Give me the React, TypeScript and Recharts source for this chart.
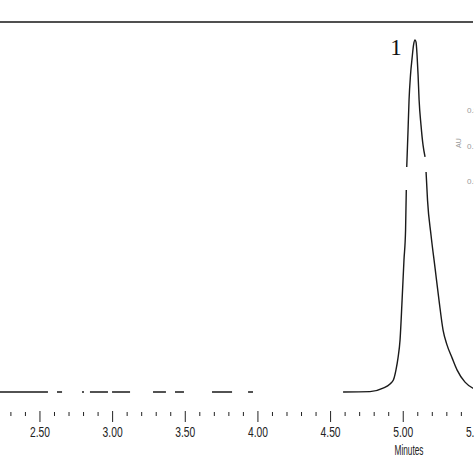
import { LineChart, Line, XAxis, YAxis, ReferenceDot, ReferenceLine, Label } from 'recharts';

// retention time (min) and detector signal (normalised to peak 1); null = gap in trace
const times = [
  2.225, 2.555, 2.585, 2.617, 2.652, 2.72, 2.789, 2.803, 2.82, 2.844, 2.968, 2.98,
  2.996, 3.12, 3.2, 3.278, 3.367, 3.4, 3.429, 3.491, 3.6, 3.684, 3.822, 3.9, 3.932,
  3.966, 4.3,
  4.586, 4.771, 4.861, 4.909, 4.932, 4.95, 4.964, 4.978, 4.992, 5.005, 5.016, 5.021,
  5.0225, 5.024, 5.033, 5.04, 5.05, 5.061, 5.071, 5.081,
  5.088, 5.095, 5.102, 5.109, 5.122, 5.136, 5.15, 5.153, 5.157, 5.167, 5.191, 5.219,
  5.246, 5.274, 5.301, 5.336, 5.37, 5.425, 5.487,
];
const signal: (number | null)[] = [
  0, 0, null, 0, 0, null, 0, 0, null, 0, 0, null,
  0, 0, null, 0, 0, null, 0, 0, null, 0, 0, null, 0,
  0, null,
  0, 0.001, 0.011, 0.023, 0.034, 0.063, 0.097, 0.148, 0.261, 0.375, 0.46, 0.574,
  null, 0.639, 0.744, 0.83, 0.901, 0.949, 0.986, 1.0,
  0.994, 0.957, 0.901, 0.83, 0.759, 0.702, 0.668, null, 0.625, 0.545, 0.446, 0.352,
  0.261, 0.176, 0.134, 0.097, 0.063, 0.028, 0.009,
];

const xTicks = [
  2.3, 2.4, 2.5, 2.6, 2.7, 2.8, 2.9, 3.0, 3.1, 3.2, 3.3, 3.4, 3.5, 3.6, 3.7, 3.8, 3.9,
  4.0, 4.1, 4.2, 4.3, 4.4, 4.5, 4.6, 4.7, 4.8, 4.9, 5.0, 5.1, 5.2, 5.3, 5.4, 5.5,
];
const rightTicks = [0.6, 0.7, 0.8];
const yMin = -0.0511;
const yMax = 1.0511;
const peakTime = 5.081;
const peakHeight = 1.0;
const peakName = '1';

const data = times.map((t, i) => ({ t, v: signal[i] }));

const isMajor = (v: number) => Math.abs(v * 2 - Math.round(v * 2)) < 1e-6;

function TimeTick(props: any) {
  const { x, y, payload } = props;
  const major = isMajor(payload.value);
  return (
    <g>
      <line
        x1={x}
        x2={x}
        y1={major ? y + 1 : y + 2}
        y2={major ? y + 12 : y + 6}
        stroke="#222"
        strokeWidth={1}
      />
      {major && (
        <text
          x={x}
          y={y + 27}
          textAnchor="middle"
          fontSize={14}
          fill="#222"
          textLength={20}
          lengthAdjust="spacingAndGlyphs"
        >
          {payload.value.toFixed(2)}
        </text>
      )}
    </g>
  );
}

function FaintTick(props: any) {
  const { x, y, payload } = props;
  return (
    <text x={x - 6} y={y + 3} fontSize={8} fill="#999" textAnchor="start">
      {payload.value.toFixed(2)}
    </text>
  );
}

export default function App() {
  return (
    <div style={{ position: 'absolute', left: 0, top: 0, width: 474, height: 474, background: '#fff', overflow: 'hidden' }}>
      <LineChart
        width={474}
        height={474}
        data={data}
        margin={{ top: 22, right: 0, bottom: 0, left: 0 }}
        style={{ fontFamily: '"Liberation Sans", Arial, sans-serif' }}
      >
        <XAxis
          dataKey="t"
          type="number"
          domain={[2.225, 5.48]}
          allowDataOverflow
          ticks={xTicks}
          interval={0}
          tickSize={0}
          tickMargin={0}
          tickLine={false}
          axisLine={false}
          height={64}
          tick={<TimeTick />}
        >
          <Label
            content={(p: any) => (
              <text
                x={p.viewBox.x + 409}
                y={p.viewBox.y + 45}
                textAnchor="middle"
                fontSize={15}
                fill="#222"
                textLength={29}
                lengthAdjust="spacingAndGlyphs"
              >
                Minutes
              </text>
            )}
          />
        </XAxis>
        <YAxis
          orientation="right"
          width={1}
          domain={[yMin, yMax]}
          allowDataOverflow
          ticks={rightTicks}
          interval={0}
          tickSize={0}
          tickMargin={0}
          tickLine={false}
          axisLine={false}
          tick={<FaintTick />}
        >
          <Label
            content={(p: any) => (
              <text
                x={p.viewBox.x - 12}
                y={p.viewBox.y + 121}
                fontSize={7}
                fill="#999"
                textAnchor="middle"
                transform={`rotate(-90 ${p.viewBox.x - 12} ${p.viewBox.y + 121})`}
              >
                AU
              </text>
            )}
          />
        </YAxis>
        <ReferenceLine y={yMax} stroke="#505050" strokeWidth={2} ifOverflow="extendDomain" />
        <Line
          type="monotone"
          dataKey="v"
          stroke="#1a1a1a"
          strokeWidth={1.4}
          dot={false}
          connectNulls={false}
          isAnimationActive={false}
        />
        <ReferenceDot
          x={peakTime}
          y={peakHeight}
          r={1}
          fill="none"
          stroke="none"
          label={(p: any) => (
            <text
              x={p.viewBox.x - 18}
              y={p.viewBox.y + 16}
              textAnchor="middle"
              fontSize={23}
              fill="#111"
              fontFamily='"Liberation Serif", "Times New Roman", serif'
            >
              {peakName}
            </text>
          )}
        />
      </LineChart>
    </div>
  );
}
